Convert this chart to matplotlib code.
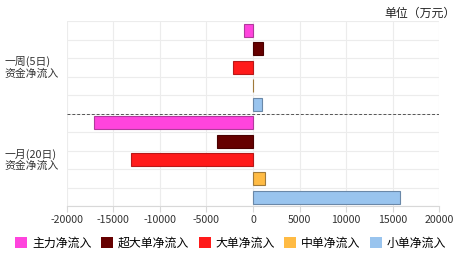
import matplotlib
matplotlib.use("Agg")
import matplotlib.pyplot as plt
from matplotlib.patches import Patch

plt.rcParams['font.family'] = ['Noto Sans CJK SC', 'DejaVu Sans']

series = ['主力净流入', '超大单净流入', '大单净流入', '中单净流入', '小单净流入']
colors = ['#ff44dd', '#660000', '#ff1a1a', '#ffbb44', '#99c4ee']
edges = ['#b03a9c', '#4a0000', '#b81818', '#a07a3a', '#6a88a8']
week_values = [-970, 1070, -2150, 10, 970]
month_values = [-17070, -3870, -13100, 1290, 15780]
group_labels = ['一周(5日)\n资金净流入', '一月(20日)\n资金净流入']
xticks = [-20000, -15000, -10000, -5000, 0, 5000, 10000, 15000, 20000]

fig = plt.figure(figsize=(4.57, 2.61), dpi=100)
ax = fig.add_axes([0.146, 0.2096, 0.815, 0.710])

vals = week_values + month_values
for i, v in enumerate(vals):
    k = i % 5
    ax.barh(i, v, height=0.7, color=colors[k], edgecolor=edges[k], linewidth=0.8, zorder=3)

ax.set_ylim(9.5, -0.5)
ax.set_xlim(-20000, 20000)
ax.set_xticks(xticks)
ax.set_xticklabels([str(t) for t in xticks])
ax.set_yticks([y + 0.5 for y in range(-1, 10)], minor=True)
ax.set_yticks([])
ax.grid(True, which='minor', axis='y', color='#ececec', linewidth=0.8, zorder=0)
ax.grid(True, which='major', axis='x', color='#ececec', linewidth=0.8, zorder=0)
ax.tick_params(axis='y', which='both', length=0)
ax.tick_params(axis='x', length=4, color='#d8d8d8', labelsize=7.6, labelcolor='#333333', pad=2)
for s in ['top', 'right', 'left']:
    ax.spines[s].set_visible(False)
ax.spines['bottom'].set_color('#d8d8d8')
ax.axhline(4.5, color='#555555', linestyle=(0, (3, 2)), linewidth=0.7, zorder=4)

for gi, lab in enumerate(group_labels):
    yc = 2 + gi * 5
    ax.text(-0.168, yc, lab, transform=ax.get_yaxis_transform(), ha='left', va='center',
            fontsize=7.8, color='#333333', linespacing=1.15)

fig.text(0.997, 0.95, '单位（万元）', ha='right', va='center', fontsize=8.6, color='#222222')

handles = [Patch(facecolor=c, edgecolor='none') for c in colors]
fig.legend(handles, series, loc='center', bbox_to_anchor=(0.505, 1 - 243 / 261), ncol=5,
           frameon=False, fontsize=8.6, handlelength=1.0, handleheight=1.0,
           handletextpad=0.4, columnspacing=0.8, borderaxespad=0)

fig.savefig('out.png', dpi=100)
